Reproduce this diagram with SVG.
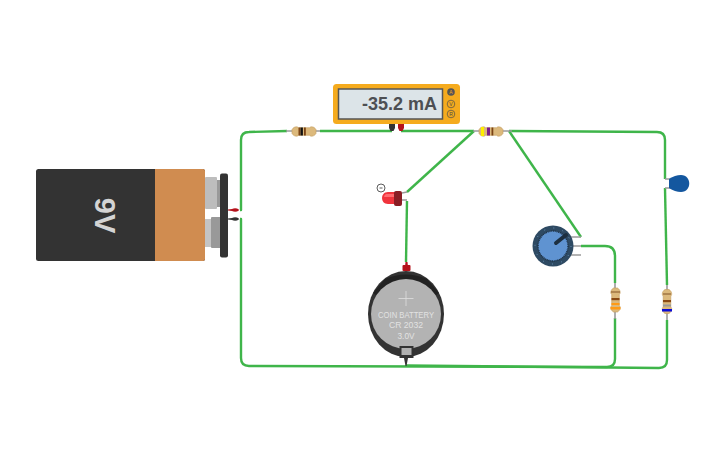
<svg xmlns="http://www.w3.org/2000/svg" width="725" height="453" viewBox="0 0 725 453">
<style>
.w{fill:none;stroke:#3fb54a;stroke-width:2.4;stroke-linejoin:round}
.l{fill:none;stroke:#9a9a9a;stroke-width:1.6}
.rb{fill:#dcb97c;stroke:#c39c5e;stroke-width:.6}
text{font-family:"Liberation Sans",Arial,sans-serif}
.c{font-size:8.500px;fill:#e2e2e2;text-anchor:middle}
.k{font-size:5px;fill:#4a4a4a;text-anchor:middle}
.ka{font-size:5px;fill:#f5ab1e;text-anchor:middle}
.kc{fill:none;stroke:#4a4a4a;stroke-width:.7}
</style>
<defs>
<path id="rh" d="M-12 -2C-10-5.200-6.500-5.200-5.500-3.800H5.500C6.500-5.200 10-5.200 12-2V2C10 5.200 6.500 5.200 5.500 3.800H-5.500C-6.500 5.200-10 5.200-12 2Z" class="rb"/>
<path id="rv" d="M-2 -12C-5.200-10-5.200-6.500-3.800-5.500V5.500C-5.200 6.500-5.200 10-2 12H2C5.200 10 5.200 6.500 3.800 5.500V-5.500C5.200-6.500 5.200-10 2-12Z" class="rb"/>
</defs>
<g id="connectors">
<path class="w" d="M240 210H241V140Q241 132 249 132L287 131"/>
<path class="w" d="M240 219H241V358Q241 366 249 366L607 367Q615 367 615 359V318"/>
<path class="w" d="M320 131H392"/>
<path class="w" d="M401 131H474"/>
<path class="w" d="M474 131L407 192"/>
<path class="w" d="M407 201L406 262"/>
<path class="w" d="M509 131L657 132Q665 132 665 140V179"/>
<path class="w" d="M665 188L667 285"/>
<path class="w" d="M667 320V360Q667 368 659 368L406 365.500"/>
<path class="w" d="M509 131L581 237"/>
<path class="w" d="M581 246H605Q615 246 615 256V283"/>
</g>
<g id="battery-9v">
<path d="M216 180H220V207H216Z" fill="#999"/>
<rect x="205" y="177" width="12" height="32" rx="1" fill="#bdbdbd"/>
<path d="M205 219H212V247H205Z" fill="#c4c4c4"/>
<rect x="211" y="217" width="10" height="31" rx="1" fill="#999"/>
<rect x="36" y="169" width="169" height="92" rx="2.500" fill="#333"/>
<path d="M155 169H203Q205 169 205 171V259Q205 261 203 261H155Z" fill="#d08c50"/>
<text transform="translate(95,215.500) rotate(90)" font-size="29" font-weight="bold" fill="#d4d4d4" text-anchor="middle">9V</text>
<rect x="220" y="173.500" width="8" height="84" rx="2" fill="#333"/>
<path d="M228 209.500L232 209Q234 208 237 208.500Q241 210 237 211.500Q234 212 232 211L228 210.500Z" fill="#b5121b"/>
<path d="M228 218.500L232 218Q234 217 237 217.500Q241 219 237 220.500Q234 221 232 220L228 219.500Z" fill="#333"/>
</g>
<g id="resistor-1">
<path class="l" d="M286 131H320"/>
<use href="#rh" x="304" y="131.500"/>
<rect x="298.500" y="127.500" width="1.800" height="8" fill="#7a4315"/>
<rect x="300.500" y="127.500" width="2.400" height="8" fill="#111"/>
<rect x="304" y="127.500" width="1.800" height="8" fill="#7a4315"/>
</g>
<g id="ammeter">
<rect x="333" y="84" width="127" height="40" rx="3.500" fill="#f5ab1e"/>
<rect x="338.500" y="89" width="104" height="30" fill="#dce4e8" stroke="#555" stroke-width="1.500"/>
<text x="399.500" y="110" font-size="18" font-weight="bold" fill="#4d4f53" text-anchor="middle">-35.2 mA</text>
<circle cx="451" cy="92" r="3.800" fill="#555"/>
<text x="451" y="94" class="ka">A</text>
<circle cx="451" cy="104" r="3.800" class="kc"/>
<text x="451" y="106" class="k">V</text>
<circle cx="451" cy="114" r="3.800" class="kc"/>
<text x="451" y="116" class="k">R</text>
<path d="M389 124H395V128L393.500 131H390.500L389 128Z" fill="#333"/>
<path d="M398 124H404V128L402.500 131H399.500L398 128Z" fill="#b5121b"/>
</g>
<g id="resistor-2">
<path class="l" d="M473 131H512"/>
<use href="#rh" x="491" y="131.500"/>
<rect x="481" y="127" width="3" height="9" fill="#ffee00"/>
<rect x="487" y="127.500" width="3" height="8" fill="#7a1a8a"/>
<rect x="491.500" y="127.500" width="1.800" height="8" fill="#7a4315"/>
</g>
<g id="led">
<circle cx="381" cy="188" r="4" fill="#fff" stroke="#333" stroke-width=".8"/>
<path d="M379.500 188H382.500" stroke="#333" stroke-width=".8"/>
<path class="l" d="M402 193L407 192M402 200H407"/>
<path d="M388 192H396V204H388C380 204 380 192 388 192Z" fill="#f0333c"/>
<path d="M386 194H394V197H384Q384 195 386 194Z" fill="#ff6b70"/>
<rect x="394" y="191" width="8" height="15" rx="2" fill="#8a1d24"/>
</g>
<g id="coin-battery">
<path d="M405 267L405.500 262H407.500L408 267Z" fill="#b5121b"/>
<rect x="402.500" y="265" width="8" height="6" rx="1" fill="#b5121b"/>
<ellipse cx="406" cy="314" rx="38" ry="43" fill="#333"/>
<path d="M385 279L373 293L381 299H431L439 293L427 279Q406 270 385 279Z" fill="#222"/>
<circle cx="406" cy="314" r="35" fill="#b3b3b3"/>
<path d="M399.500 346H413.500V358H399.500Z" fill="#333"/>
<rect x="401.500" y="348" width="10" height="7" fill="#b0b0b0"/>
<path d="M404 358H408L406.500 366H405.500Z" fill="#333"/>
<path d="M406 291V306M398.500 298.500H413.500" stroke="#dedede" stroke-width=".8"/>
<text x="406" y="317.500" class="c" textLength="56" lengthAdjust="spacingAndGlyphs">COIN BATTERY</text>
<text x="406" y="328" class="c" textLength="34" lengthAdjust="spacingAndGlyphs">CR 2032</text>
<text x="406" y="338.500" class="c" textLength="17" lengthAdjust="spacingAndGlyphs">3.0V</text>
</g>
<g id="potentiometer">
<path class="l" d="M570 237H581M570 246H581M570 255H581"/>
<circle cx="553" cy="246" r="20.500" fill="#2e4a63"/>
<circle cx="553" cy="246" r="18" fill="none" stroke="#6d97bd" stroke-width="1" stroke-dasharray="1 8.400"/>
<circle cx="553" cy="246" r="15" fill="#5f93d1" stroke="#1f3347" stroke-width="1.500" stroke-dasharray="1 .8"/>
<path d="M556 243L566 235" stroke="#1d2f40" stroke-width="4" stroke-linecap="round"/>
</g>
<g id="resistor-3">
<path class="l" d="M615 283V319"/>
<use href="#rv" x="615.500" y="300"/>
<rect x="611" y="291.500" width="9" height="1" fill="#6b3a12" opacity=".8"/>
<rect x="611.500" y="298" width="8" height="2.200" fill="#8a4a14"/>
<rect x="611.500" y="303" width="8" height="2" fill="#ff9a14"/>
<rect x="610.500" y="307" width="10" height="2.500" fill="#ff9a14"/>
</g>
<g id="resistor-4">
<path class="l" d="M667 285V320"/>
<use href="#rv" x="667" y="301.500"/>
<rect x="663" y="293.500" width="8" height="1" fill="#6b3a12" opacity=".8"/>
<rect x="663" y="300" width="8" height="2.200" fill="#8a4a14"/>
<rect x="663" y="304.500" width="8" height="2" fill="#9a9a9a"/>
<rect x="662" y="309" width="10" height="2.500" fill="#0a0ad8"/>
</g>
<g id="capacitor">
<path class="l" d="M665 179H672M665 188H672"/>
<path d="M669 179Q675 175 681 175C692 175 692 192 681 192Q675 192 669 188Z" fill="#14579f"/>
</g>
</svg>
